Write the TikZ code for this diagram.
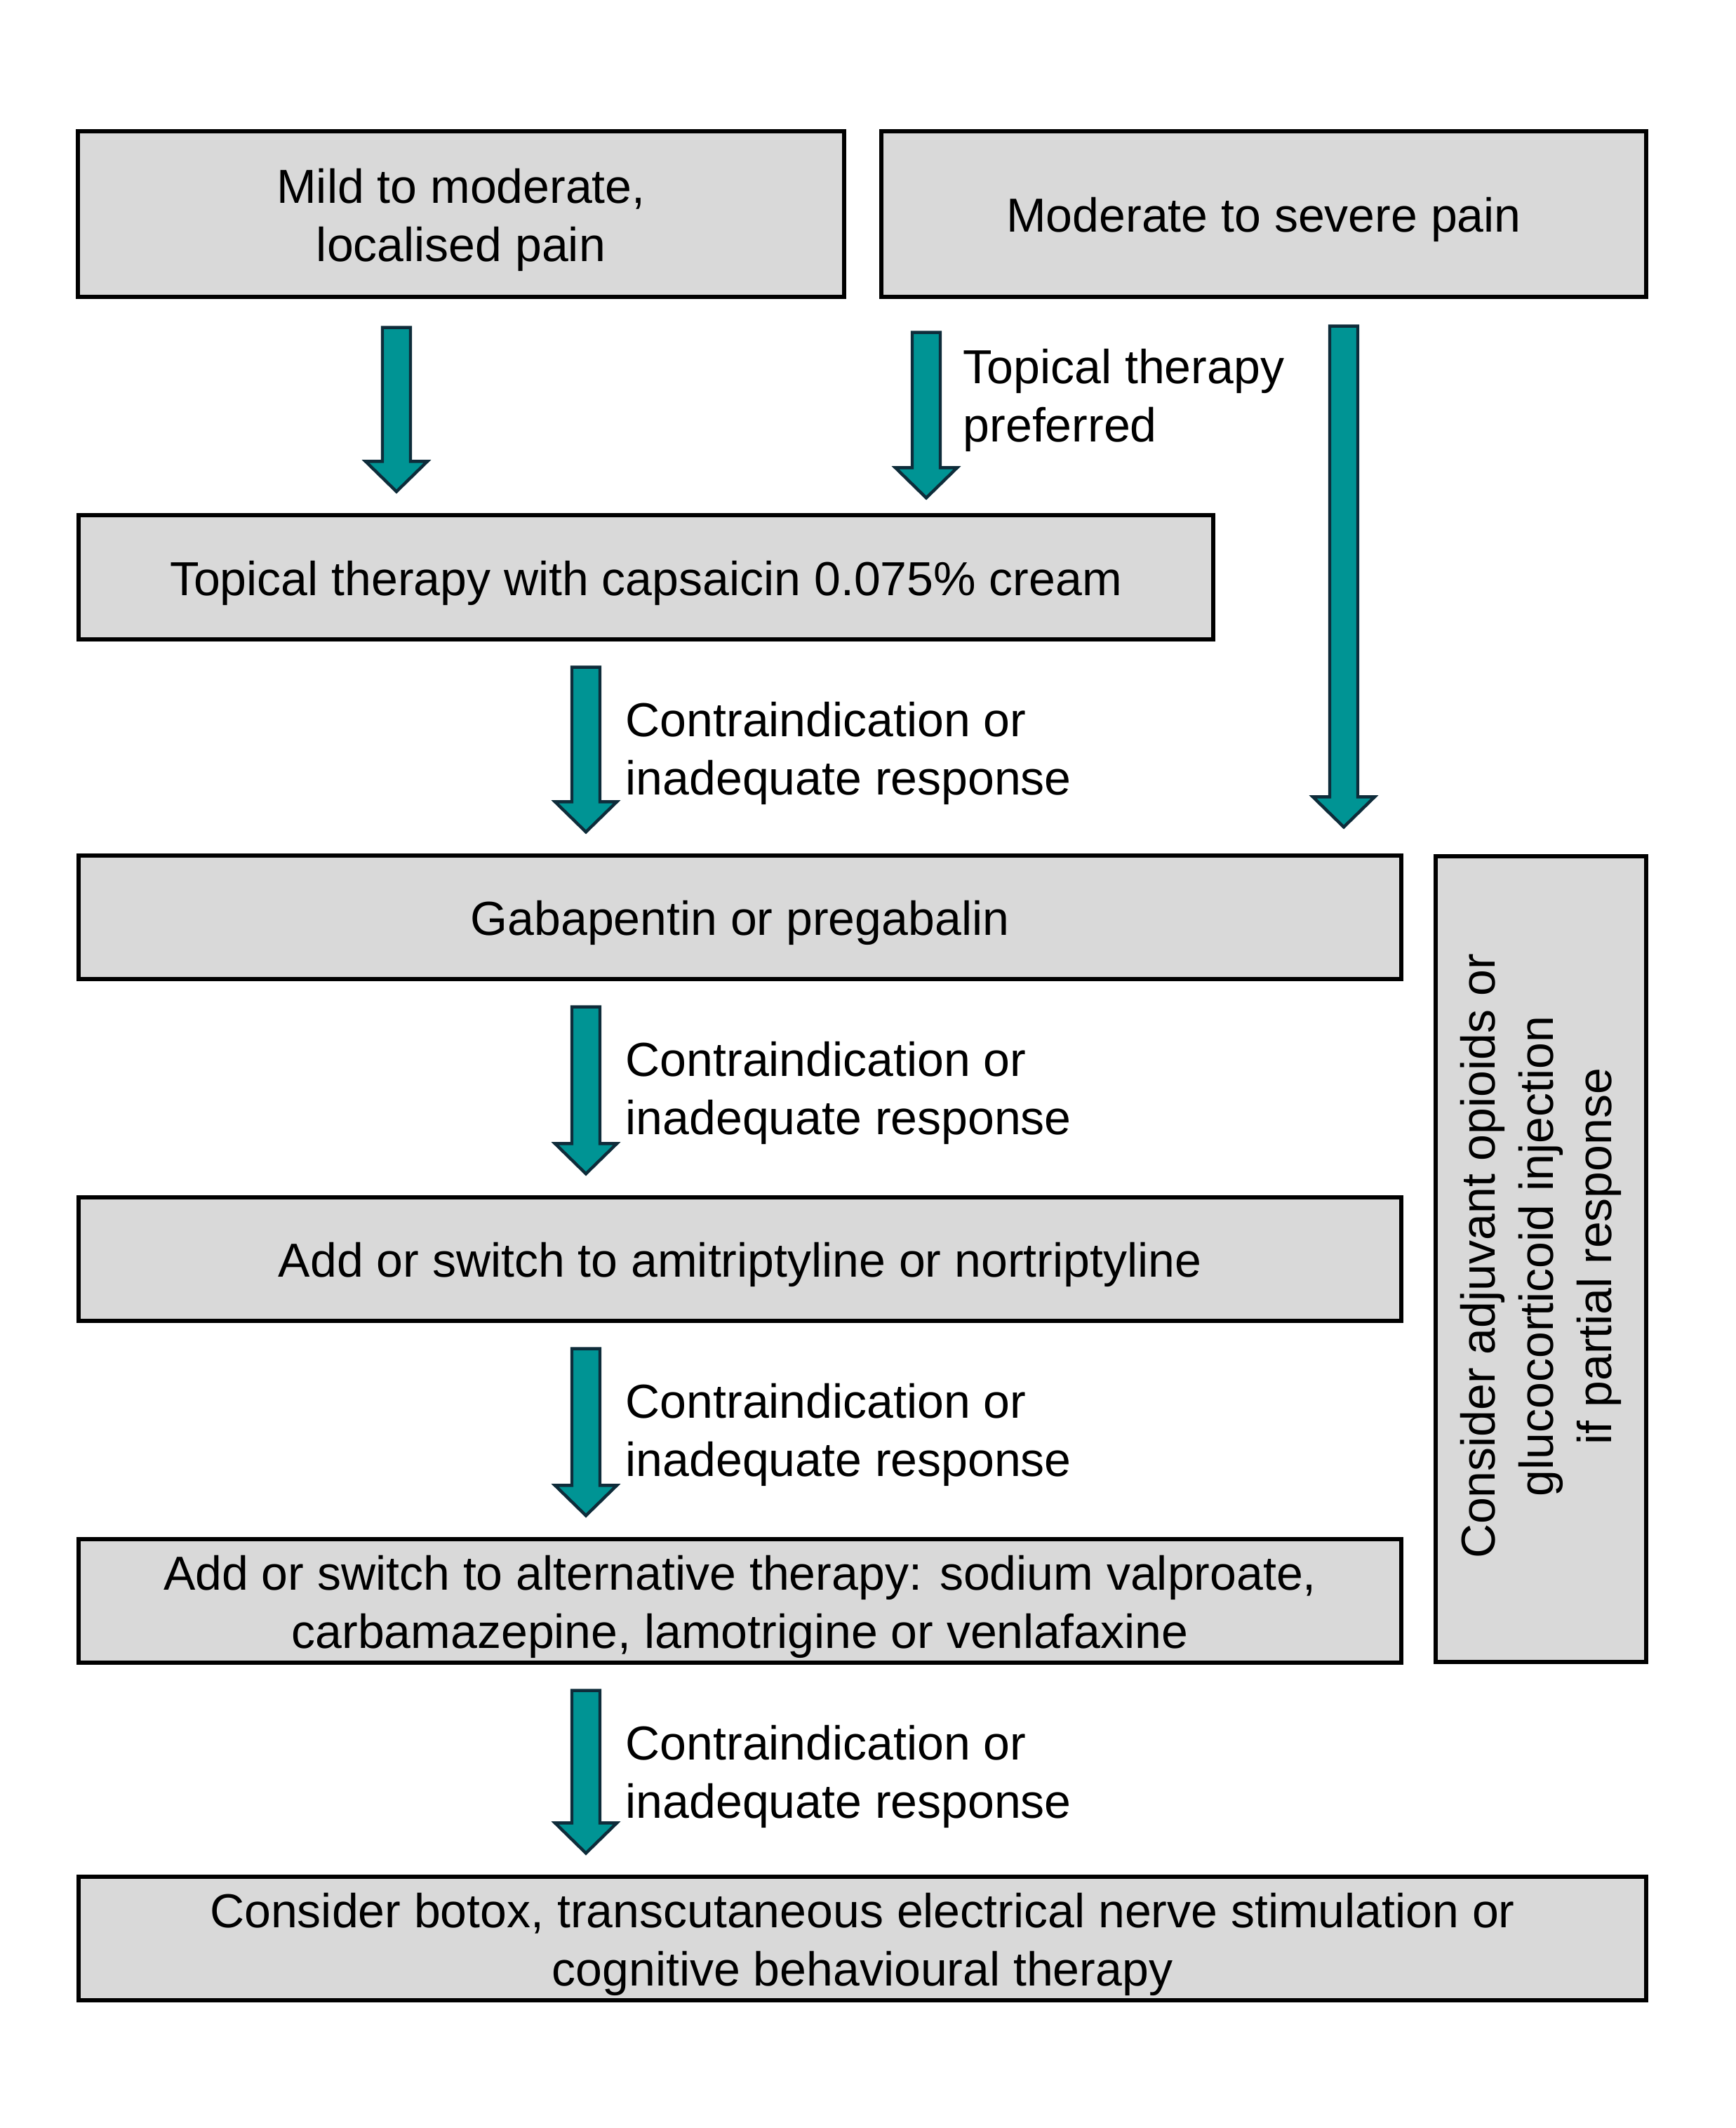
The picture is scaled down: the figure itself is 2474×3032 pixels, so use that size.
\documentclass[tikz,border=0pt]{standalone}
\usepackage{fontspec}
\setmainfont{Liberation Sans}
\usetikzlibrary{calc}
\definecolor{boxfill}{RGB}{217,217,217}
\definecolor{tealfill}{RGB}{0,148,148}
\definecolor{tealedge}{RGB}{14,44,58}
\tikzset{
  box/.style={draw=black, line width=1.3pt, fill=boxfill, inner sep=0pt},
  boxtext/.style={align=center, inner sep=0pt, font=\fontsize{17}{20.75}\selectfont},
  lbl/.style={anchor=west, align=left, inner sep=0pt, font=\fontsize{17}{20.75}\selectfont},
  blockarrowstyle/.style={fill=tealfill, draw=tealedge, line width=1.1pt, line join=miter}
}
\newcommand\blockarrow[2]{%
  \path let \p1=(#1), \p2=(#2) in [blockarrowstyle]
    (\x1-5pt,\y1) -- (\x1+5pt,\y1) -- (\x1+5pt,\y2+10.75pt) -- (\x1+11pt,\y2+10.75pt)
    -- (\x1,\y2) -- (\x1-11pt,\y2+10.75pt) -- (\x1-5pt,\y2+10.75pt) -- cycle;}
\begin{document}
\begin{tikzpicture}[x=0.25pt,y=-0.25pt]
\useasboundingbox (0,0) rectangle (2474,3032);
% boxes
\node[box, minimum width=273pt, minimum height=59pt] (b1) at (657,305) {};
\node[box, minimum width=272.5pt, minimum height=59pt] (b2) at (1801,305) {};
\node[box, minimum width=404.25pt, minimum height=44.25pt] (b3) at (920.5,822.5) {};
\node[box, minimum width=471.25pt, minimum height=44pt] (b4) at (1054.5,1307) {};
\node[box, minimum width=471.25pt, minimum height=44pt] (b5) at (1054.5,1794) {};
\node[box, minimum width=471.25pt, minimum height=44pt] (b6) at (1054.5,2281) {};
\node[box, minimum width=558.5pt, minimum height=44pt] (b7) at (1229,2762) {};
\node[box, minimum width=75pt, minimum height=287pt] (side) at (2196,1794) {};
% box texts
\node[boxtext, yshift=-2pt] (t1) at (b1.center) {Mild to moderate,\\localised pain};
\node[boxtext, yshift=-2pt] (t2) at (b2.center) {Moderate to severe pain};
\node[boxtext, yshift=-2pt] (t3) at (b3.center) {Topical therapy with capsaicin 0.075\% cream};
\node[boxtext, yshift=-2pt] (t4) at (b4.center) {Gabapentin or pregabalin};
\node[boxtext, yshift=-2pt] (t5) at (b5.center) {Add or switch to amitriptyline or nortriptyline};
\node[boxtext, yshift=-2pt] (t6) at (b6.center) {Add or switch to alternative therapy: sodium valproate,\\carbamazepine, lamotrigine or venlafaxine};
\node[boxtext, yshift=-2pt] (t7) at (b7.center) {Consider botox, transcutaneous electrical nerve stimulation or\\cognitive behavioural therapy};
\node[boxtext, rotate=90, xshift=1pt] (sidetxt) at (side.center) {Consider adjuvant opioids or\\glucocorticoid injection\\if partial response};
% arrow end points
\coordinate (a1s) at ($(565,0 |- b1.south)+(0,41)$);
\coordinate (a1e) at ($(565,0 |- b3.north)+(0,-31)$);
\coordinate (a2s) at ($(1320,0 |- b2.south)+(0,48)$);
\coordinate (a2e) at ($(1320,0 |- b3.north)+(0,-22)$);
\coordinate (a3s) at ($(1915,0 |- b2.south)+(0,39)$);
\coordinate (a3e) at ($(1915,0 |- b4.north)+(0,-38)$);
\coordinate (a4s) at ($(835,0 |- b3.south)+(0,37)$);
\coordinate (a4e) at ($(835,0 |- b4.north)+(0,-31)$);
\coordinate (a5s) at ($(835,0 |- b4.south)+(0,37)$);
\coordinate (a5e) at ($(835,0 |- b5.north)+(0,-31)$);
\coordinate (a6s) at ($(835,0 |- b5.south)+(0,37)$);
\coordinate (a6e) at ($(835,0 |- b6.north)+(0,-31)$);
\coordinate (a7s) at ($(835,0 |- b6.south)+(0,37)$);
\coordinate (a7e) at ($(835,0 |- b7.north)+(0,-31)$);
\blockarrow{a1s}{a1e}
\blockarrow{a2s}{a2e}
\blockarrow{a3s}{a3e}
\blockarrow{a4s}{a4e}
\blockarrow{a5s}{a5e}
\blockarrow{a6s}{a6e}
\blockarrow{a7s}{a7e}
% labels
\node[lbl] (l2) at (1372,570) {Topical therapy\\preferred};
\node[lbl] (l4) at ($(891,0 |- b3.south)+(0,160)$) {Contraindication or\\inadequate response};
\node[lbl] (l5) at ($(891,0 |- b4.south)+(0,160)$) {Contraindication or\\inadequate response};
\node[lbl] (l6) at ($(891,0 |- b5.south)+(0,160)$) {Contraindication or\\inadequate response};
\node[lbl] (l7) at ($(891,0 |- b6.south)+(0,160)$) {Contraindication or\\inadequate response};
\end{tikzpicture}
\end{document}
